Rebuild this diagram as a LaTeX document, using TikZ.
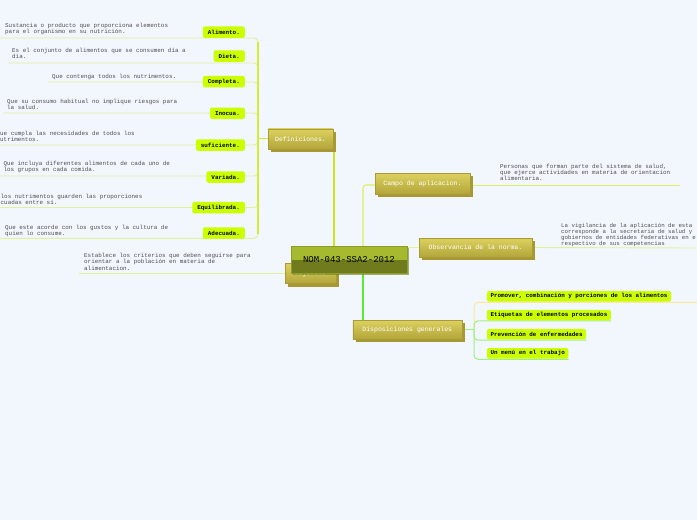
\documentclass[tikz,border=0pt]{standalone}
\usepackage{fontspec}
\setmonofont{Liberation Mono}
\newfontfamily\lmono{Liberation Mono}
\usetikzlibrary{shadows}
\pgfdeclarelayer{back}
\pgfdeclarelayer{bg}
\pgfsetlayers{back,bg,main}
\definecolor{bgc}{HTML}{F2F6FD}
\definecolor{goldtop}{HTML}{DCD160}
\definecolor{goldbot}{HTML}{B3A53A}
\definecolor{goldedge}{HTML}{A99B35}
\definecolor{goldshadow}{HTML}{A69833}
\definecolor{maintop}{HTML}{A6BA2F}
\definecolor{maindark}{HTML}{6F7B1D}
\definecolor{mainedge}{HTML}{8C9C28}
\definecolor{limec}{HTML}{CCFF00}
\definecolor{descgray}{HTML}{505050}
\definecolor{leafline}{HTML}{E0F29A}
\definecolor{trunkline}{HTML}{D2EE30}
\definecolor{defsline}{HTML}{CCE81A}
\definecolor{campoline}{HTML}{DDF060}
\definecolor{displine}{HTML}{55EE33}
\definecolor{childgreen}{HTML}{A0F080}
\definecolor{childyellow}{HTML}{FFE899}
\begin{document}
\begin{tikzpicture}[x=1pt,y=-1pt,
  gold/.style={draw=goldedge, line width=0.5pt, top color=goldtop, bottom color=goldbot,
    text=white, font=\lmono\fontsize{6.5}{7}\selectfont, inner sep=0pt,
    drop shadow={shadow xshift=3pt, shadow yshift=-3pt, fill=goldshadow, opacity=1}},
  mainbox/.style={draw=mainedge, line width=0.6pt, fill=maintop,
    path picture={\fill[maindark] (path picture bounding box.west) rectangle (path picture bounding box.south east);},
    text=black, font=\lmono\fontsize{9}{10}\selectfont, inner sep=0pt,
    minimum width=116pt, minimum height=27pt,
    drop shadow={shadow xshift=1.5pt, shadow yshift=-1.5pt, fill=maindark, opacity=0.6}},
  leaf/.style={fill=limec, rounded corners=2pt, inner xsep=5pt, inner ysep=0pt,
    minimum height=11.5pt, text=black, font=\lmono\bfseries\fontsize{5.9}{6}\selectfont, anchor=east},
  child/.style={fill=limec, rounded corners=1.5pt, inner xsep=3.6pt, inner ysep=0pt,
    minimum height=10.5pt, text=black, font=\lmono\bfseries\fontsize{5.9}{6}\selectfont, anchor=west},
  desc/.style={text=descgray, font=\lmono\fontsize{5.9}{6.3}\selectfont, align=left,
    inner sep=0pt, anchor=north west},
  leafl/.style={draw=leafline, line width=0.9pt, rounded corners=4pt},
  trunkl/.style={draw=trunkline, line width=1.2pt},
]
\begin{pgfonlayer}{back}
\fill[bgc] (0,0) rectangle (697,520);
\end{pgfonlayer}
\useasboundingbox (0,0) rectangle (697,520);

% ---------- description texts ----------
\node[desc] (alimt) at (5,23.2) {Sustancia o producto que proporciona elementos\\para el organismo en su nutrición.};
\node[desc] (dietat) at (12,47.7) {Es el conjunto de alimentos que se consumen día a\\día.};
\node[desc] (complt) at (52,73.7) {Que contenga todos los nutrimentos.};
\node[desc] (inoct) at (7,98.7) {Que su consumo habitual no implique riesgos para\\la salud.};
\node[desc] (sufit) at (0,131.2) {ue cumpla las necesidades de todos los\\utrimentos.};
\node[desc] (varit) at (3.3,161.2) {Que incluya diferentes alimentos de cada uno de\\los grupos en cada comida.};
\node[desc] (equit) at (0.5,193.7) {los nutrimentos guarden las proporciones\\cuadas entre sí.};
\node[desc] (adect) at (5,224.7) {Que este acorde con los gustos y la cultura de\\quien lo consume.};
\node[desc] (objt) at (84,253.2) {Establece los criterios que deben seguirse para\\orientar a la población en materia de\\alimentacion.};
\node[desc] (campt) at (500,163.7) {Personas que forman parte del sistema de salud,\\que ejerce actividades en materia de orientacion\\alimentaria.};
\node[desc, font=\lmono\fontsize{5.75}{6.3}\selectfont] (obst) at (561,222.7) {La vigilancia de la aplicación de esta\\corresponde a la secretaria de salud y\\gobiernos de entidades federativas en e\\respectivo de sus competencias};

% ---------- leaves (left) ----------
\node[leaf] (alim) at (245,32.2) {Alimento.};
\node[leaf] (dieta) at (245,56) {Dieta.};
\node[leaf] (compl) at (245,81.7) {Completa.};
\node[leaf] (inoc) at (245,113.3) {Inocua.};
\node[leaf] (sufi) at (245,145) {suficiente.};
\node[leaf] (vari) at (245,177) {Variada.};
\node[leaf] (equi) at (245,207.7) {Equilibrada.};
\node[leaf] (adec) at (245,233) {Adecuada.};

% ---------- disposiciones children ----------
\node[child] (prom) at (486.7,296.3) {Promover, combinación y porciones de los alimentos};
\node[child] (etq) at (486.7,315) {Etiquetas de elementos procesados};
\node[child] (prev) at (486.7,334.2) {Prevención de enfermedades};
\node[child] (menu) at (486.7,353.3) {Un menú en el trabajo};

% ---------- gold topic nodes ----------
\node[gold, minimum width=65pt, minimum height=20pt] (defs) at (300.5,138.8) {Definiciones.};
\node[gold, minimum width=95pt, minimum height=21pt] (campo) at (422.5,183.5) {Campo de aplicacion.};
\node[gold, minimum width=113pt, minimum height=19pt] (obs) at (475.5,247.5) {Observancia de la norma.};
\node[gold, minimum width=109pt, minimum height=19pt] (disp) at (407.3,329.5) {Disposiciones generales};
\node[gold, minimum width=51pt, minimum height=20pt] (obj) at (310.5,273.5) {Objetivo};

% ---------- central node ----------
\node[mainbox] (main) at (349,259.5) {NOM-043-SSA2-2012};

% ---------- coordinates ----------
\coordinate (ltrunk) at (258,138.8);
\coordinate (lt1) at (258,42);
\coordinate (lt2) at (258,234);
\coordinate (alimE) at (0,38);
\coordinate (dietaE) at (8,63);
\coordinate (complE) at (48,82);
\coordinate (inocE) at (3,113);
\coordinate (sufiE) at (0,145);
\coordinate (variE) at (0,176);
\coordinate (equiE) at (0,207.5);
\coordinate (adecE) at (0,238.3);
\coordinate (objE) at (79,273.5);
\coordinate (campoE) at (680,185.5);
\coordinate (obsE) at (697,248);
\coordinate (mtop1) at (334,246);
\coordinate (mtop2) at (363,246);
\coordinate (mbot) at (363,273);
\coordinate (dtrunk) at (474,329.5);
\coordinate (promE) at (697,302.3);

\begin{pgfonlayer}{bg}
  % left leaves
  \draw[leafl] (ltrunk) |- (alimE);
  \draw[leafl] (ltrunk) |- (dietaE);
  \draw[leafl] (ltrunk) |- (complE);
  \draw[leafl] (ltrunk) |- (inocE);
  \draw[leafl] (ltrunk) |- (sufiE);
  \draw[leafl] (ltrunk) |- (variE);
  \draw[leafl] (ltrunk) |- (equiE);
  \draw[leafl] (ltrunk) |- (adecE);
  \draw[trunkl] (lt1) -- (lt2);
  \draw[trunkl] (defs.west) -- (ltrunk);
  % main connections
  \draw[draw=defsline, line width=1.5pt] (mtop1) -- (mtop1 |- defs.south);
  \draw[draw=campoline, line width=1.1pt, rounded corners=3pt] (mtop2) |- ([yshift=-1.5pt]campo.west);
  \draw[draw=leafline, line width=1pt] (main.east |- obs.west) -- (obs.west);
  \draw[draw=displine, line width=2pt] (mbot) -- (mbot |- disp.north);
  % topic underlines
  \draw[draw=leafline, line width=1pt] (objE) -- (obj.west);
  \draw[draw=campoline, line width=0.9pt] ([yshift=-2pt]campo.east) -- (campoE);
  \draw[draw=leafline, line width=0.9pt] (obs.east) -- (obsE);
  % disposiciones children
  \draw[draw=childgreen, line width=1pt] (disp.east) -- (dtrunk);
  \draw[draw=childyellow, line width=1pt, rounded corners=4pt] (dtrunk) |- (promE);
  \draw[draw=childgreen, line width=1pt, rounded corners=4pt] (dtrunk) |- ([yshift=-0.5pt]etq.south east);
  \draw[draw=childgreen, line width=1pt, rounded corners=4pt] (dtrunk) |- ([yshift=-0.5pt]prev.south east);
  \draw[draw=childgreen, line width=1pt, rounded corners=4pt] (dtrunk) |- ([yshift=-0.5pt]menu.south east);
\end{pgfonlayer}
\end{tikzpicture}
\end{document}
